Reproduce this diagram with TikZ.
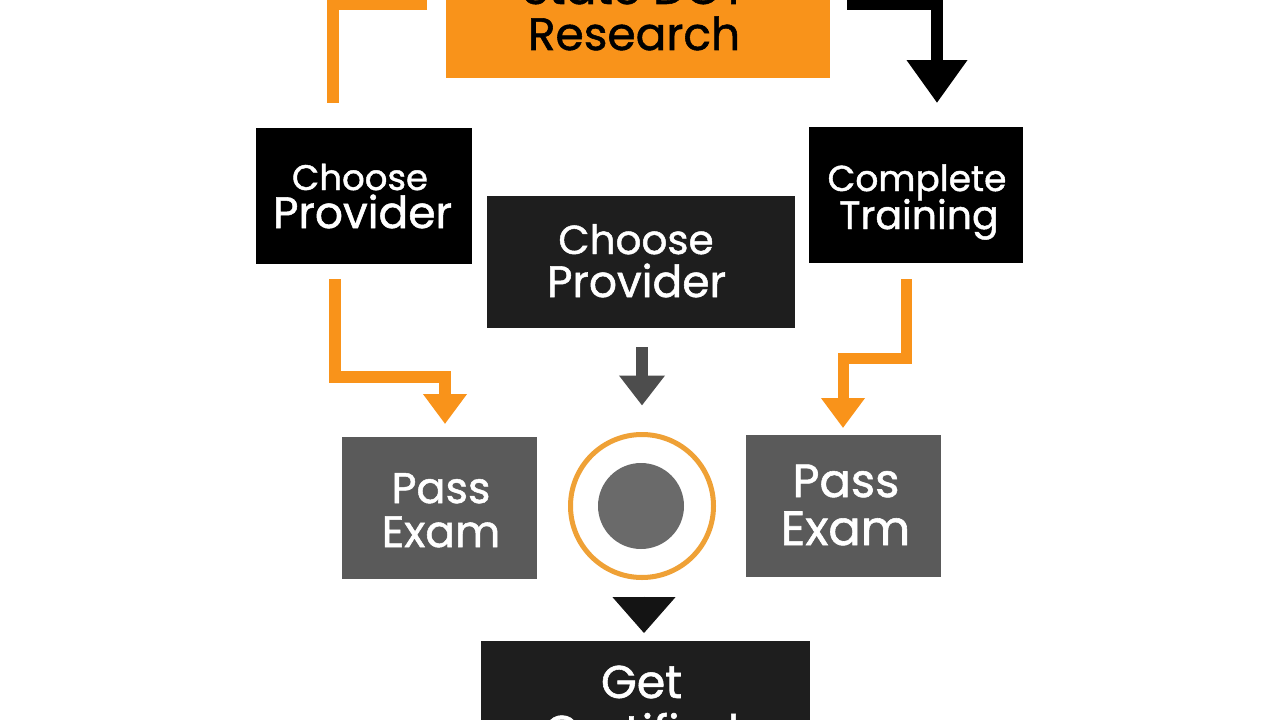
\documentclass[tikz,border=0pt]{standalone}
\usepackage{fontspec}
\setmainfont{Poppins}[FakeBold=1.2]
\usetikzlibrary{arrows.meta}
\definecolor{orangeA}{HTML}{F9931A}
\definecolor{ringA}{HTML}{EFA136}
\definecolor{darkA}{HTML}{1E1E1E}
\definecolor{greyA}{HTML}{5A5A5A}
\definecolor{greyB}{HTML}{4D4D4D}
\definecolor{greyC}{HTML}{6A6A6A}
\newcommand{\fs}[1]{\fontsize{#1}{#1}\selectfont}
% size, dx, text; size, dx, text; gap between baselines; second baseline below centre
\newcommand{\twolines}[8]{\smash{\lower#8pt\vbox{\offinterlineskip
  \hbox to 0pt{\hss\kern#2pt\kern#2pt\smash{\fs{#1}#3}\hss}\kern#7pt
  \hbox to 0pt{\hss\kern#5pt\kern#5pt\smash{\fs{#4}#6}\hss}}}}
\tikzset{
  x=1pt,y=-1pt,
  box/.style={rectangle,inner sep=0pt,outer sep=0pt,text=white,anchor=north west},
  orangeflow/.style={draw=orangeA,line width=12pt,miter limit=10},
  tipflow/.style={-{Triangle[length=30pt,width=42pt]}},
}
\begin{document}
\begin{tikzpicture}
\useasboundingbox (0,0) rectangle (1280,720);
\clip (0,0) rectangle (1280,720);
\fill[white] (0,0) rectangle (1280,720);
% boxes
\node[box,fill=orangeA,text=black,minimum width=384pt,minimum height=128pt] (research) at (446,-50) {\twolines{45.5}{-4}{State DOT}{45.5}{-4}{Research}{46}{36}};
\node[box,fill=black,minimum width=216pt,minimum height=136pt] (cpL) at (256,128) {\twolines{35.5}{-4}{Choose}{44}{-1.5}{Provider}{38}{32}};
\node[box,fill=black,minimum width=214pt,minimum height=136pt] (ctR) at (809,127) {\twolines{36}{1}{Complete}{39.5}{3}{Training}{38}{34}};
\node[box,fill=darkA,minimum width=308pt,minimum height=132pt] (cpC) at (487,196) {\twolines{40.5}{-5}{Choose}{44}{-4.5}{Provider}{43}{35}};
\node[box,fill=greyA,minimum width=195pt,minimum height=142pt] (peL) at (342,437) {\twolines{43}{1.5}{Pass}{44}{1.5}{Exam}{44}{39}};
\node[box,fill=greyA,minimum width=195pt,minimum height=142pt] (peR) at (746,435) {\twolines{46.5}{2.5}{Pass}{48}{2}{Exam}{48}{39}};
\node[box,fill=darkA,minimum width=329pt,minimum height=130pt] (cert) at (481,641) {\twolines{46}{-4}{Get}{46}{-4}{Certified}{50}{42}};
% middle circle
\node[circle,draw=ringA,line width=5pt,minimum size=143pt,inner sep=0pt,outer sep=0pt] (ring) at (642,506) {};
\node[circle,fill=greyC,minimum size=86pt,inner sep=0pt,outer sep=0pt] (dot) at (641,506) {};
% connectors
\coordinate (bendTL) at (333,4);
\coordinate (bendTR) at (937,4);
\coordinate (bendLa) at (335,377);
\coordinate (bendRa) at (906,358);
\draw[orangeflow,shorten >=25pt] ([xshift=-19pt,yshift=10pt]research.west) -- (bendTL) -- ([xshift=-31pt]cpL.north);
\draw[line width=12pt,draw=black,-{Triangle[length=43pt,width=58pt]},shorten >=24pt,miter limit=10] ([xshift=17pt,yshift=10pt]research.east) -- (bendTR) -- ([xshift=21pt]ctR.north);
\draw[orangeflow,tipflow,shorten <=15pt,shorten >=13pt] ([xshift=-29pt]cpL.south) -- (bendLa) -| ([xshift=5.5pt]peL.north);
\draw[orangeflow,tipflow,shorten <=16pt,shorten >=7pt,line width=11pt] (ctR.south -| bendRa) -- (bendRa) -| ([xshift=-0.5pt]peR.north);
\draw[line width=12pt,draw=greyB,-{Triangle[length=30pt,width=44pt]},shorten <=19pt,shorten >=29pt] (cpC.south -| ring.north) -- (ring.north);
\draw[black!92,-{Triangle[length=36pt,width=63pt]},line width=1pt,shorten <=19pt,shorten >=8pt] ([xshift=2pt]ring.south) -- ([xshift=2pt]ring.south |- cert.north);
\end{tikzpicture}
\end{document}
